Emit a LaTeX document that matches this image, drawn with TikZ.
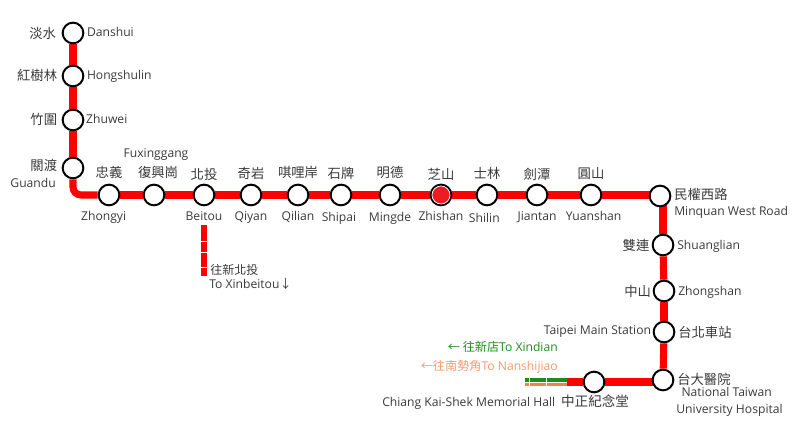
\documentclass[tikz,border=0pt]{standalone}
\usepackage{fontspec}
\setmainfont{Open Sans}
\newfontfamily\cjk{Noto Sans CJK TC}
\usetikzlibrary{positioning,backgrounds}
\definecolor{railred}{HTML}{FF0000}
\definecolor{txtgray}{HTML}{3A3A3A}
\definecolor{xindian}{HTML}{1F8A1F}
\definecolor{nanshi}{HTML}{F0853F}
\definecolor{nanshitxt}{HTML}{F59A6A}
\definecolor{hereRed}{HTML}{ED1C24}
\tikzset{
  station/.style={circle,draw=black,line width=1.5pt,fill=white,minimum size=15.5pt,inner sep=0pt},
  rail/.style={draw=railred,line width=5.3pt},
  zh/.style={font=\cjk\fontsize{10}{11}\selectfont,text=txtgray,inner sep=0pt,text height=8.5pt,text depth=1.5pt},
  en/.style={font=\fontsize{9.1}{11}\selectfont,text=txtgray,inner sep=0pt,text height=7.5pt,text depth=2pt},
}
\begin{document}
\begin{tikzpicture}[x=0.75pt,y=-0.75pt]
\useasboundingbox (0,0) rectangle (800,423);

\node[station] (danshui)    at (73,33)   {};
\node[station] (hongshulin) at (73,76)   {};
\node[station] (zhuwei)     at (73,120)  {};
\node[station] (guandu)     at (73,168)  {};
\node[station] (zhongyi)    at (109,195) {};
\node[station] (fuxinggang) at (154,195) {};
\node[station] (beitou)     at (204,195) {};
\node[station] (qiyan)      at (251,195) {};
\node[station] (qilian)     at (298,195) {};
\node[station] (shipai)     at (341,195) {};
\node[station] (mingde)     at (390,195) {};
\node[station] (zhishan)    at (441,195) {};
\node[station] (shilin)     at (487,195) {};
\node[station] (jiantan)    at (537,195) {};
\node[station] (yuanshan)   at (591,195) {};
\node[station] (minquan)    at (660,196) {};
\node[station] (shuanglian) at (663,245) {};
\node[station] (zhongshan)  at (664,291) {};
\node[station] (taipei)     at (664,332) {};
\node[station] (ntuh)       at (663,380) {};
\node[station] (cks)        at (594,382) {};
\node[circle,draw=white,line width=0.5pt,fill=hereRed,minimum size=13.5pt,inner sep=0pt] (zhishan in) at (zhishan) {};

\coordinate (branch a) at (204,225);
\coordinate (branch b) at (204,276);
\coordinate (south a)  at (525,380);
\coordinate (south b)  at (567,380);
\coordinate (south c)  at (567,382);

% line
\begin{scope}[on background layer]
\path[rail] (danshui) -- (hongshulin);
\path[rail] (hongshulin) -- (zhuwei);
\path[rail] (zhuwei) -- (guandu);
\path[rail,rounded corners=6pt] (guandu) |- (zhongyi);
\foreach \a/\b in {zhongyi/fuxinggang,fuxinggang/beitou,beitou/qiyan,qiyan/qilian,qilian/shipai,shipai/mingde,mingde/zhishan,zhishan/shilin,shilin/jiantan,jiantan/yuanshan}
  \path[rail] (\a) -- (\b);
\path[rail] (yuanshan) -- (yuanshan -| minquan);
\path[rail] (shuanglian |- minquan) -- (shuanglian);
\path[rail] (shuanglian) -- (zhongshan);
\path[rail] (zhongshan) -- (taipei);
\path[rail] (taipei) -- (ntuh);
\path[rail] (ntuh |- cks) -- (cks);
\path[rail] (cks) -- (south c);
\end{scope}

% branches
\draw[railred,line width=4.5pt] (branch a) -- (branch b);
\foreach \y in {16,27,42}
  \draw[white,line width=0.5pt] (branch a) ++(-3,\y) -- ++(6,0);
\draw[xindian,line width=2.6pt] ([yshift=-0.1pt]south a) -- ([yshift=-0.1pt]south b);
\draw[nanshi,line width=2.6pt] ([yshift=-3.3pt]south a) -- ([yshift=-3.3pt]south b);
\foreach \x in {4,21}
  \draw[white,line width=0.6pt] (south a) ++(\x,-3) -- ++(0,9);

% north part
\node[zh] (danshui zh)    [left=4pt of danshui,yshift=-0.5pt] {淡水};
\node[en] (danshui en)    [right=1.8pt of danshui,yshift=-0.2pt] {Danshui};
\node[zh] (hongshulin zh) [left=3.2pt of hongshulin,yshift=0.2pt] {紅樹林};
\node[en] (hongshulin en) [right=1.8pt of hongshulin,yshift=-0.2pt] {Hongshulin};
\node[zh] (zhuwei zh)     [left=3.2pt of zhuwei,yshift=-0.2pt] {竹圍};
\node[en] (zhuwei en)     [right=1.2pt of zhuwei,yshift=-0.2pt] {Zhuwei};
\node[zh] (guandu zh)     [left=3.2pt of guandu,yshift=1.5pt] {關渡};
\node[en] (guandu en)     [below=3pt of guandu zh.south east,anchor=north east,xshift=-1pt] {Guandu};

% upper row
\node[zh] (zhongyi zh)    [above=2.6pt of zhongyi] {忠義};
\node[zh] (fuxinggang zh) [above=2.6pt of fuxinggang,xshift=3pt] {復興崗};
\node[en] (fuxinggang en) [above=4.5pt of fuxinggang zh,xshift=-1.5pt] {Fuxinggang};
\node[zh] (beitou zh)     [above=1.2pt of beitou] {北投};
\node[zh] (qiyan zh)      [above=2.4pt of qiyan] {奇岩};
\node[zh] (qilian zh)     [above=2.6pt of qilian] {唭哩岸};
\node[zh] (shipai zh)     [above=2pt of shipai] {石牌};
\node[zh] (mingde zh)     [above=2.6pt of mingde] {明德};
\node[zh] (zhishan zh)    [above=1.6pt of zhishan] {芝山};
\node[zh] (shilin zh)     [above=2pt of shilin] {士林};
\node[zh] (jiantan zh)    [above=1.4pt of jiantan] {劍潭};
\node[zh] (yuanshan zh)   [above=1.8pt of yuanshan] {圓山};

% lower row
\node[en] (zhongyi en)    [below=3pt of zhongyi,xshift=-4pt] {Zhongyi};
\node[en] (beitou en)     [below=2.8pt of beitou] {Beitou};
\node[en] (qiyan en)      [below=3pt of qiyan] {Qiyan};
\node[en] (qilian en)     [below=3pt of qilian] {Qilian};
\node[en] (shipai en)     [below=3.4pt of shipai,xshift=-1.5pt] {Shipai};
\node[en] (mingde en)     [below=3.6pt of mingde] {Mingde};
\node[en] (zhishan en)    [below=3pt of zhishan] {Zhishan};
\node[en] (shilin en)     [below=4.2pt of shilin,xshift=-2pt] {Shilin};
\node[en] (jiantan en)    [below=3pt of jiantan] {Jiantan};
\node[en] (yuanshan en)   [below=3pt of yuanshan,xshift=2pt] {Yuanshan};

% east part
\node[zh] (minquan zh)    [right=2pt of minquan,yshift=1pt] {民權西路};
\node[en] (minquan en)    [below=3pt of minquan zh.south west,anchor=north west] {Minquan West Road};
\node[zh] (shuanglian zh) [left=1.5pt of shuanglian,yshift=-1pt] {雙連};
\node[en] (shuanglian en) [right=2pt of shuanglian,yshift=-1pt] {Shuanglian};
\node[zh] (zhongshan zh)  [left=1pt of zhongshan,yshift=-0.8pt] {中山};
\node[en] (zhongshan en)  [right=2pt of zhongshan,yshift=-0.8pt] {Zhongshan};
\node[en] (taipei en)     [left=1pt of taipei,yshift=0.9pt] {Taipei Main Station};
\node[zh] (taipei zh)     [right=2pt of taipei,yshift=-0.8pt] {台北車站};
\node[zh] (ntuh zh)       [right=2pt of ntuh] {台大醫院};
\node[en] (ntuh en)       [below=-0.5pt of ntuh zh,xshift=17pt] {National Taiwan};
\node[en] (ntuh fn)       [below=2.5pt of ntuh en,xshift=2.2pt] {University Hospital};
\node[en] (cks en)        [below left=5pt and -32.5pt of cks] {Chiang Kai-Shek Memorial Hall\hspace{2pt} {\cjk\fontsize{10.2}{11}\selectfont 中正紀念堂}};

% directions
\node[zh,anchor=west,font=\cjk\fontsize{9}{10}\selectfont] (branch zh) at (210,270) {往新北投};
\node[en,anchor=west] (branch en) at (209,285) {To Xinbeitou{\cjk ↓}};
\node[en,anchor=east,text=xindian] (xindian lb) at (558,348) {{\cjk ← 往新店}To Xindian};
\node[en,anchor=east,text=nanshitxt] (nanshi lb) at (558,367) {{\cjk ←往南勢角}To Nanshijiao};
\end{tikzpicture}
\end{document}
